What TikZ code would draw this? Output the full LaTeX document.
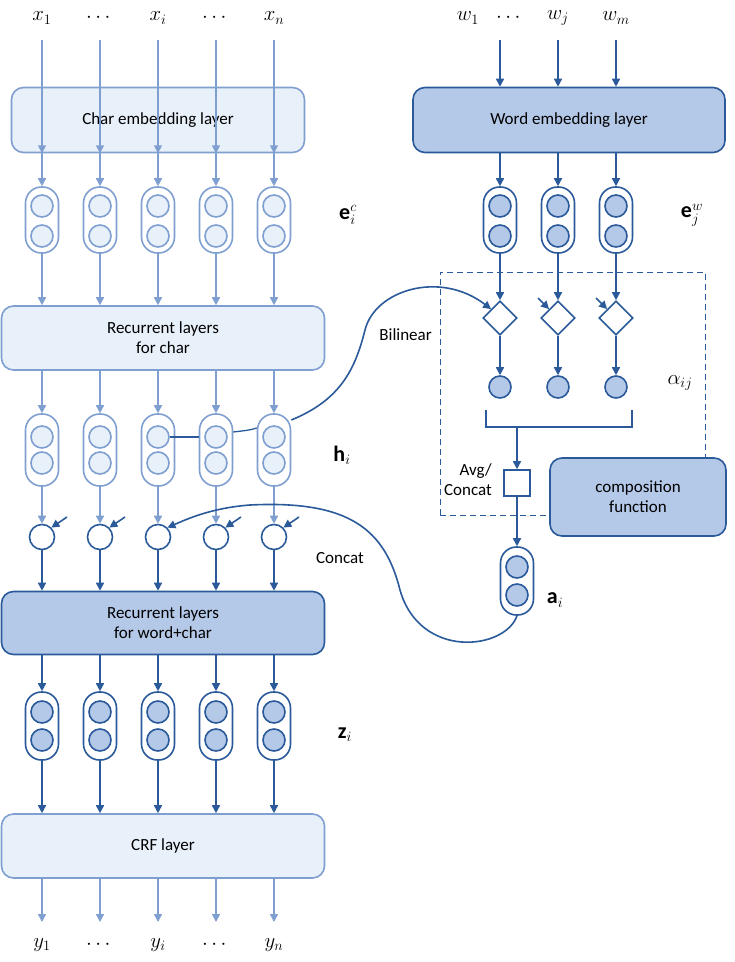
\documentclass[tikz,border=0pt]{standalone}
\usepackage{fontspec}
\setmainfont{Carlito}
\usepackage{amsmath}
\usetikzlibrary{shapes.geometric,arrows.meta}
\definecolor{lfill}{HTML}{E8F0FA}
\definecolor{lline}{HTML}{7F9FD0}
\definecolor{dfill}{HTML}{B4C8E8}
\definecolor{dline}{HTML}{2A5A9A}
\begin{document}
\begin{tikzpicture}[x=1pt,y=-1pt,
  every node/.style={inner sep=0pt},
  larr/.style={lline,line width=1.6pt,-{Triangle[length=8pt,width=8pt]}},
  darr/.style={dline,line width=1.6pt,-{Triangle[length=8pt,width=8pt]}},
  lbox/.style={draw=lline,fill=lfill,line width=1.6pt,rounded corners=12pt,font=\fontsize{17}{20}\selectfont,align=center},
  dbox/.style={draw=dline,fill=dfill,line width=1.6pt,rounded corners=12pt,font=\fontsize{17}{20}\selectfont,align=center},
  lcap/.style={draw=lline,fill=white,line width=1.6pt,rounded corners=16pt,minimum width=33pt,minimum height=66pt},
  dcap/.style={draw=dline,fill=white,line width=1.6pt,rounded corners=16pt,minimum width=33pt,minimum height=66pt},
  lcirc/.style={circle,draw=lline,fill=lfill,line width=1.6pt,minimum size=22pt},
  dcirc/.style={circle,draw=dline,fill=dfill,line width=1.6pt,minimum size=22pt},
  ocirc/.style={circle,draw=dline,fill=white,line width=1.6pt,minimum size=25pt},
  lab/.style={font=\fontsize{22}{24}\selectfont},
  txt/.style={font=\fontsize{17}{20}\selectfont}]
\useasboundingbox (0,0) rectangle (735,962);

% left column inputs
\node[lab] (x1) at (42,18) {$x_1$};
\node[lab] (xd1) at (100,18) {$\cdots$};
\node[lab] (xi) at (158,18) {$x_i$};
\node[lab] (xd2) at (216,18) {$\cdots$};
\node[lab] (xn) at (274,18) {$x_n$};

\node[lbox,minimum width=293pt,minimum height=65pt] (cemb) at (158,120) {Char embedding layer};
\node[lbox,minimum width=323pt,minimum height=64pt] (rchar) at (163,338) {Recurrent layers\\for char};
\node[dbox,minimum width=323pt,minimum height=63pt] (rword) at (163,623) {Recurrent layers\\for word+char};
\node[lbox,minimum width=323pt,minimum height=64pt] (crf) at (163,846) {CRF layer};

\foreach \i/\x in {1/42,2/100,3/158,4/216,5/274} {
  \coordinate (xt\i) at (\x,40);
  \coordinate (yb\i) at (\x,922);
  \node[lcap] (e\i) at (\x,220) {};
  \node[lcirc] at (\x,206) {};
  \node[lcirc] at (\x,236) {};
  \node[lcap,minimum height=72pt] (h\i) at (\x,450) {};
  \node[lcirc] (ha\i) at (\x,437) {};
  \node[lcirc] at (\x,463) {};
  \node[ocirc] (o\i) at (\x,537) {};
  \node[dcap,minimum height=68pt] (z\i) at (\x,726) {};
  \node[dcirc] at (\x,712) {};
  \node[dcirc] at (\x,740) {};
  \draw[larr] (xt\i) -- (cemb.south -| xt\i) ;
  \draw[larr] (cemb.south -| xt\i) -- (e\i);
  \draw[larr] (e\i) -- (rchar.north -| e\i);
  \draw[larr] (rchar.south -| e\i) -- (h\i);
  \draw[larr] (h\i) -- (o\i);
  \draw[darr] (o\i) -- (rword.north -| o\i);
  \draw[darr] (rword.south -| o\i) -- (z\i);
  \draw[darr] (z\i) -- (crf.north -| z\i);
  \draw[larr] (crf.south -| z\i) -- (yb\i);
}
\foreach \i in {1,2,4,5} {
  \draw[darr] ([shift={(25,-20)}]o\i.center) coordinate (q\i) -- (o\i.north east);
}

\node[lab] at (348,215) {$\mathbf{e}_i^c$};
\node[lab] at (342,455) {$\mathbf{h}_i$};
\node[lab] at (345,735) {$\mathbf{z}_i$};

\node[lab] at (42,945) {$y_1$};
\node[lab] at (100,945) {$\cdots$};
\node[lab] at (158,945) {$y_i$};
\node[lab] at (216,945) {$\cdots$};
\node[lab] at (274,945) {$y_n$};

% right part
\node[lab] at (468,18) {$w_1$};
\node[lab] at (510,18) {$\cdots$};
\node[lab] at (558,18) {$w_j$};
\node[lab] at (616,18) {$w_m$};
\node[dbox,minimum width=312pt,minimum height=65pt] (wemb) at (569,120) {Word embedding layer};

\draw[dline,line width=1pt,dash pattern=on 6pt off 4pt]
  (440,515) -- (440,272) -- (705,272) -- (705,458);
\draw[dline,line width=1pt,dash pattern=on 6pt off 4pt] (440,515) -- (550,515);

\foreach \j/\x in {1/500,2/558,3/616} {
  \coordinate (wt\j) at (\x,40);
  \node[dcap] (ew\j) at (\x,220) {};
  \node[dcirc] at (\x,206) {};
  \node[dcirc] at (\x,236) {};
  \node[diamond,draw=dline,fill=white,line width=1.6pt,minimum size=34pt] (d\j) at (\x,318) {};
  \node[dcirc] (al\j) at (\x,387) {};
  \draw[darr] (wt\j) -- (wemb.north -| wt\j);
  \draw[darr] (wemb.south -| wt\j) -- (ew\j);
  \draw[darr] (ew\j) -- (d\j);
  \draw[darr] (d\j) -- (al\j);
}
\foreach \j in {2,3} {
  \draw[darr] ([shift={(-20,-20)}]d\j.center) coordinate (p\j) -- (d\j.north west);
}
\node[lab] at (680,383) {$\alpha_{ij}$};
\node[lab] at (692,215) {$\mathbf{e}_j^w$};
\node[txt,anchor=east] (bil) at (432,335) {Bilinear};

\coordinate (bl) at (486,410);
\coordinate (br) at (632,410);
\coordinate (bm) at (517,427);
\draw[dline,line width=1.3pt] (bl) -- (486,427) -- (632,427) -- (br);
\node[draw=dline,fill=white,line width=1.6pt,minimum size=26pt] (sq) at (517,483) {};
\draw[darr] (bm) -- (sq);
\node[dcap,minimum height=68pt] (ai) at (517,581) {};
\node[dcirc] at (517,567) {};
\node[dcirc] at (517,595) {};
\draw[darr] (sq) -- (ai);
\node[lab] at (555,600) {$\mathbf{a}_i$};
\node[txt,align=right,anchor=east] (avg) at (492,480) {Avg/\\Concat};
\node[dbox,minimum width=176pt,minimum height=78pt] (comp) at (638,497) {composition\\function};

% bilinear curve: from h3 through h4, h5 to first diamond
\draw[dline,line width=1.3pt] (ha3.east) -- (h4.west |- ha3);
\draw[dline,line width=1.3pt] (h4.east |- 0,432) .. controls (250,430) .. (h5.west |- 0,428);
\draw[darr] (h5.east |- 0,420) .. controls (340,400) and (355,370) .. (365,330)
  .. controls (375,290) and (440,270) .. (d1.north west);

% concat curve: from a_i to third small circle
\draw[darr] (ai.south) .. controls (505,650) and (420,660) .. (400,590)
  .. controls (385,530) and (350,500) .. (250,505)
  .. controls (210,508) and (185,520) .. (o3.north east);
\node[txt] (cc) at (340,558) {Concat};
\end{tikzpicture}
\end{document}
